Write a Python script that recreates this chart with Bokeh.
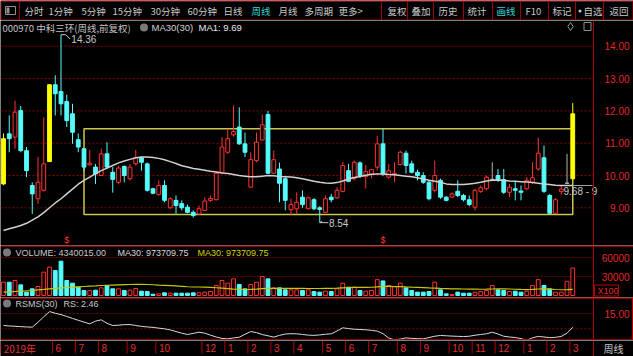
from bokeh.plotting import figure
from bokeh.layouts import column
from bokeh.models import Range1d
from bokeh.core.properties import value
from bokeh.embed import file_html
from bokeh.resources import INLINE

# ---------------- data (weekly candles, 000970) ----------------
opens = [9.74, 11.29, 11.19, 12.01, 10.77, 9.69, 9.28, 9.54, 10.43, 12.81,
         12.60, 12.29, 11.91, 11.11, 10.83, 10.33, 10.26, 10.00, 10.67, 10.10,
         9.79, 10.28, 9.90, 10.36, 10.55, 10.36, 9.59, 9.41, 9.69, 9.00,
         9.23, 9.13, 9.02, 8.86, 8.81, 8.92, 9.23, 9.25, 10.10, 10.72,
         11.26, 11.50, 10.98, 9.64, 10.46, 11.10, 11.89, 10.07, 10.20, 9.90,
         8.94, 8.97, 9.33, 8.97, 9.25, 9.00, 8.86, 9.33, 9.31, 9.51,
         10.15, 9.90, 10.39, 9.97, 10.03, 10.26, 10.98, 9.95, 10.03, 10.34,
         10.69, 10.36, 10.10, 10.00, 9.79, 9.54, 9.85, 9.33, 9.33, 9.51,
         9.38, 9.25, 9.02, 9.51, 9.59, 9.88, 10.00, 9.87, 9.48, 9.59,
         9.52, 9.59, 9.79, 10.20, 10.55, 9.38, 8.83, 9.50, 9.76, 9.90]
closes = [11.14, 11.14, 11.96, 10.77, 10.15, 9.43, 9.79, 10.36, 12.81, 12.53,
          12.22, 11.70, 11.34, 10.88, 10.26, 10.38, 10.05, 10.67, 10.26, 9.88,
          10.23, 10.00, 10.26, 10.55, 10.41, 9.54, 9.45, 9.69, 9.23, 9.28,
          9.07, 9.00, 8.86, 8.76, 8.97, 9.21, 9.29, 10.07, 10.88, 11.14,
          11.36, 10.98, 10.72, 10.49, 11.03, 11.57, 10.07, 10.49, 9.76, 9.23,
          9.10, 9.17, 9.10, 9.31, 8.97, 8.95, 9.28, 9.25, 9.54, 10.31,
          9.82, 10.41, 10.00, 10.12, 10.18, 10.98, 10.05, 10.15, 10.07, 10.72,
          10.31, 10.10, 10.00, 9.79, 9.28, 10.00, 9.33, 9.23, 9.43, 9.38,
          9.25, 9.10, 9.54, 9.62, 9.95, 9.88, 9.85, 9.48, 9.64, 9.54,
          9.48, 9.85, 9.93, 10.69, 9.51, 8.83, 9.25, 9.58, 9.76, 11.91]
highs = [11.30, 11.86, 12.32, 12.15, 10.88, 9.79, 10.57, 11.80, 12.81, 13.10,
         14.36, 12.50, 12.22, 11.30, 10.85, 10.79, 10.36, 10.83, 11.03, 10.26,
         10.30, 10.31, 10.36, 10.79, 10.57, 10.40, 9.62, 9.85, 9.85, 9.33,
         9.38, 9.23, 9.10, 8.92, 9.07, 9.33, 9.38, 10.12, 11.19, 11.45,
         12.17, 12.11, 11.33, 10.72, 11.33, 11.89, 12.00, 10.77, 10.40, 9.95,
         9.28, 9.48, 9.54, 9.35, 9.30, 9.05, 9.38, 9.43, 9.64, 10.42,
         10.36, 10.46, 10.44, 10.33, 10.20, 11.23, 11.45, 10.36, 10.41, 10.77,
         10.77, 10.46, 10.18, 10.10, 9.85, 10.46, 9.90, 9.36, 9.48, 9.85,
         9.43, 9.38, 9.59, 9.69, 10.00, 10.41, 10.20, 10.20, 9.74, 9.80,
         9.69, 9.95, 10.41, 11.17, 10.93, 9.43, 9.30, 9.69, 10.67, 12.24]
lows = [9.70, 10.72, 10.83, 10.72, 9.95, 8.81, 9.12, 9.50, 10.43, 11.86,
        11.86, 11.50, 10.98, 10.72, 10.15, 10.31, 9.74, 9.98, 10.20, 9.47,
        9.74, 9.79, 9.85, 10.31, 10.15, 9.50, 9.42, 9.38, 9.17, 8.97,
        8.82, 8.92, 8.83, 8.70, 8.78, 8.90, 9.18, 9.23, 10.05, 10.67,
        11.20, 10.95, 10.57, 9.62, 10.41, 11.08, 10.05, 10.05, 9.17, 8.92,
        8.77, 8.80, 9.00, 8.95, 8.92, 8.54, 8.84, 9.17, 9.28, 9.48,
        9.79, 9.85, 9.92, 9.60, 9.92, 10.15, 9.98, 9.90, 9.79, 10.31,
        10.06, 10.06, 9.85, 9.74, 9.23, 9.48, 9.28, 9.20, 9.30, 9.33,
        9.20, 9.05, 8.92, 9.46, 9.54, 9.85, 9.80, 9.43, 9.33, 9.23,
        9.23, 9.54, 9.74, 10.15, 9.46, 8.80, 8.80, 9.40, 9.74, 9.88]
highlight_idx = [0, 8, 99]          # candles drawn in yellow

price_ma30 = [8.30, 8.35, 8.40, 8.45, 8.52, 8.62, 8.72, 8.85, 9.00, 9.15,
              9.28, 9.43, 9.58, 9.73, 9.85, 9.95, 10.06, 10.15, 10.23, 10.31,
              10.39, 10.45, 10.50, 10.55, 10.57, 10.57, 10.56, 10.53, 10.49, 10.43,
              10.37, 10.30, 10.26, 10.22, 10.19, 10.16, 10.13, 10.11, 10.08, 10.06,
              10.03, 10.00, 9.98, 9.96, 9.96, 9.98, 10.00, 9.99, 9.97, 9.96,
              9.95, 9.93, 9.90, 9.86, 9.82, 9.79, 9.77, 9.76, 9.78, 9.83,
              9.89, 9.94, 9.97, 10.01, 10.04, 10.05, 10.05, 10.03, 10.02, 10.00,
              9.98, 9.96, 9.93, 9.89, 9.85, 9.82, 9.79, 9.74, 9.72, 9.72,
              9.72, 9.74, 9.76, 9.79, 9.83, 9.85, 9.86, 9.85, 9.83, 9.82,
              9.81, 9.80, 9.78, 9.76, 9.74, 9.72, 9.70, 9.69, 9.69, 9.69]

volumes = [21000, 21000, 23700, 16800, 5300, 10500, 14200, 36800, 44700, 39500,
           54200, 23700, 19500, 13200, 7900, 7900, 8400, 12100, 15800, 10500,
           10500, 7900, 8400, 11000, 6800, 6300, 2000, 2600, 4200, 3700,
           3700, 3700, 3700, 4200, 4200, 5300, 6300, 15800, 23700, 19500,
           26300, 17400, 10500, 17400, 21000, 30000, 26300, 12100, 12100, 9000,
           9000, 9000, 7900, 9000, 6300, 5300, 6800, 6300, 10500, 19500,
           13200, 13200, 7900, 6800, 7900, 25000, 23000, 15800, 14200, 19500,
           12100, 7900, 5300, 5300, 6300, 21000, 9000, 2600, 1600, 5300,
           3700, 3700, 5300, 6300, 7900, 15800, 9000, 7900, 6300, 6800,
           5300, 6800, 15800, 25000, 15800, 10500, 5300, 5300, 22400, 43400.15]
vol_ma30 = [5300, 5800, 6300, 6800, 7300, 7900, 8800, 9600, 10500, 11200,
            11900, 12600, 13200, 13700, 14200, 14700, 15200, 15800, 16200, 16500,
            16800, 17100, 17400, 17600, 17600, 17400, 17000, 16500, 16100, 15670,
            15090, 14520, 13850, 13430, 13390, 13220, 12960, 12260, 11560, 10890,
            9960, 9750, 9450, 9590, 10030, 10760, 11360, 11360, 11240, 11190,
            11140, 11170, 11160, 11090, 11070, 11040, 11200, 11320, 11530, 12060,
            12380, 12690, 12830, 12920, 13040, 13700, 14260, 14260, 13940, 13940,
            13470, 13150, 12980, 12570, 12080, 11780, 11210, 10890, 10540, 10420,
            10240, 10060, 9980, 9890, 9940, 10290, 10360, 10420, 10280, 9850,
            9590, 9380, 9640, 10250, 10510, 10030, 9440, 9090, 9360, 9737.10]

rsms = [4.0, 3.6, 3.3, 3.0, 2.7, 2.5, 7.0, 12.0, 16.8, 15.2,
        14.0, 12.3, 10.5, 8.8, 7.1, 5.5, 8.0, 9.2, 6.0, 4.0,
        4.3, 4.8, 4.9, 4.0, 3.2, 2.7, 2.3, 1.6, 1.0, 0.0,
        -1.5, -3.0, -4.2, -3.2, -2.1, -3.0, -4.8, -6.5, -7.8, -8.2,
        -7.4, -6.7, -4.0, -1.5, -2.5, -4.3, -5.4, -6.6, -5.0, -3.8,
        -3.5, -3.6, -4.2, -4.8, -5.0, -4.6, -4.0, -3.6, -1.0, 1.9,
        1.2, 0.6, 0.4, 0.1, -0.4, -1.1, -3.5, -7.5, -9.1, -8.4,
        -7.3, -7.8, -8.0, -8.2, -7.0, -5.8, -5.1, -5.4, -5.7, -5.9,
        -6.1, -5.8, -4.9, -4.2, -3.6, -2.1, -3.8, -5.8, -6.5, -7.0,
        -8.0, -9.6, -7.2, -6.0, -6.5, -7.1, -6.8, -6.0, -3.0, 2.46]

month_idx = [0, 9, 13, 17, 22, 27, 35, 39, 43, 47, 51, 56, 60, 64, 69, 73, 78, 82, 86, 91, 95, 99]
month_labels = ["2019年", "6", "7", "8", "9", "10", "12", "1", "2", "3", "4",
                "5", "6", "7", "8", "9", "10", "11", "12", "1", "2", "3"]
price_ticks = [9, 10, 11, 12, 13, 14]
vol_ticks = [30000, 60000]
rs_ticks = [15]
rs_grid = [15, 1.0]
box_x = [14, 99]
box_y = [8.79, 11.45]
hi_idx, hi_val = 10, 14.36
lo_idx, lo_val = 55, 8.54
mark_idx = [11, 66]

# ---------------- layout helpers (pixel geometry of the screenshot) ----------------
PX0, PXW = 3.0, 5.75
def cx(px):
    return (px - PX0) / PXW
def py_price(py):
    return 10 + (175 - py) / 32.3
def py_vol(py):
    return (295 - py) / 38 * 60000
def py_rs(py):
    return 15 - (py - 313) * 0.915

RED = "#ff3232"
CYAN = "#54fcfc"
YEL = "#ffff00"
GRAY = "#b4b4b4"
AXRED = "#e02828"
GRID = "#8a0000"
SEP = "#b40000"
TXT = "#c8c8c8"
CJK = "Noto Sans CJK SC"
LAT = "Liberation Sans"

def mk(h, xr, yr):
    p = figure(width=633, height=h, x_range=xr, y_range=yr, toolbar_location=None,
               output_backend="svg", x_axis_location=None, y_axis_location=None,
               min_border=0, background_fill_color="black", border_fill_color="black",
               outline_line_color=None)
    p.grid.visible = False
    return p

def put(p, xs, ys, texts, color, size="10px", align="left", font=LAT):
    p.text(x=xs, y=ys, text=texts, text_color=color, text_font=value(font),
           text_font_size=size, text_align=align, text_baseline="middle")

n = len(opens)
idx = list(range(n))
xr = Range1d(cx(0), cx(633))

# ---------------- toolbar ----------------
pt = mk(20, Range1d(0, 633), Range1d(20, 0))
pt.line([0.5, 632.5, 632.5, 0.5, 0.5], [1, 1, 19.5, 19.5, 1], color="#a00000", line_width=1)
seps = [19, 381, 407, 433, 463, 492, 520, 548, 575, 603]
pt.segment(x0=seps, x1=seps, y0=1, y1=19.5, color="#a00000", line_width=1)
pt.rect(x=10, y=10, width=10, height=8, fill_color=None, line_color="#909090")
pt.rect(x=7.5, y=10, width=3, height=6, fill_color="#909090", line_color=None)
left_items = ["分时", "1分钟", "5分钟", "15分钟", "30分钟", "60分钟", "日线", "周线", "月线", "多周期", "更多>"]
left_x = [24, 48, 81, 112, 150, 187, 223, 251, 278, 304, 338]
right_items = ["复权", "叠加", "历史", "统计", "画线", "F10", "标记", "自选", "返回"]
right_x = [387, 411, 438, 467, 496, 525, 552, 583, 609]
active = {"周线", "画线"}
for s, x in zip(left_items + right_items, left_x + right_x):
    put(pt, [x], [10.5], [s], "#3cd7d7" if s in active else TXT, size="9.5px", font=CJK)
pt.scatter([579.5], [10.5], size=3, fill_color=TXT, line_color=None)

# ---------------- main price panel ----------------
pm = mk(225, xr, Range1d(py_price(245), py_price(20)))
pm.segment(x0=cx(0), x1=cx(593), y0=price_ticks, y1=price_ticks, color=GRID, line_dash="2 2")
put(pm, [cx(629)] * len(price_ticks), price_ticks, [f"{t:.2f}" for t in price_ticks], AXRED, align="right")
pm.quad(left=box_x[0], right=box_x[1], bottom=box_y[0], top=box_y[1],
        fill_color=None, line_color="#c8c84b", line_width=1.5)

cols, fills = [], []
for i in idx:
    if i in highlight_idx:
        c, f = YEL, YEL
    elif closes[i] > opens[i]:
        c, f = RED, "black"
    elif closes[i] < opens[i]:
        c, f = CYAN, CYAN
    else:
        c, f = GRAY, GRAY
    cols.append(c)
    fills.append(f)
tops = [max(o, c) for o, c in zip(opens, closes)]
bots = [min(o, c) for o, c in zip(opens, closes)]
pm.segment(x0=idx, x1=idx, y0=lows, y1=highs, color=cols, line_width=1)
pm.vbar(x=idx, top=tops, bottom=bots, width=0.66, fill_color=fills, line_color=cols, line_width=1)
pm.line(idx, price_ma30, color="#d0d0d0", line_width=1.5)
pm.segment(x0=idx[-1], x1=cx(592), y0=price_ma30[-1], y1=price_ma30[-1], color="#a0a0a0", line_width=1)

# annotations
pm.line([hi_idx, hi_idx + 0.8, hi_idx + 1.6], [hi_val, hi_val, py_price(38.5)], color=TXT, line_width=1)
put(pm, [hi_idx + 1.8], [py_price(38.5)], [f"{hi_val:.2f}"], TXT)
pm.segment(x0=lo_idx, x1=lo_idx + 1.5, y0=lo_val, y1=lo_val, color=TXT, line_width=1)
pm.segment(x0=lo_idx, x1=lo_idx + 0.4, y0=lo_val, y1=lo_val + 0.04, color=TXT, line_width=1)
put(pm, [lo_idx + 1.6], [lo_val], [f"{lo_val:.2f}"], TXT)
put(pm, [cx(563)], [py_price(191)], ["9.68 - 9"], TXT)
put(pm, [m for m in mark_idx], [py_price(239)] * len(mark_idx), ["$"] * len(mark_idx), "#ff3030", size="9px", align="center")

# title row
put(pm, [cx(2)], [py_price(27)], ["000970 中科三环(周线,前复权)"], "#c0c0c0", size="9.5px", font=CJK)
pm.scatter([cx(143.5)], [py_price(27)], size=8, fill_color="#7a7a7a", line_color=None)
put(pm, [cx(151)], [py_price(27)], ["MA30(30)"], "#d0d0d0", size="9.5px")
put(pm, [cx(198)], [py_price(27)], ["MA1: 9.69"], "#e8e8e8", size="9.5px")
pm.scatter([cx(570)], [py_price(26)], marker="diamond", size=8, fill_color=None, line_color="#909090")
pm.rect([cx(587)], [py_price(26)], width=7 / PXW, height=8 / 32.3, fill_color=None, line_color="#909090")
pm.segment(x0=cx(593), x1=cx(593), y0=py_price(245), y1=py_price(20), color=SEP, line_width=1)

# ---------------- volume panel ----------------
pv = mk(52, xr, Range1d(py_vol(297), py_vol(245)))
pv.segment(x0=cx(0), x1=cx(593), y0=vol_ticks, y1=vol_ticks, color=GRID, line_dash="2 2")
vcol, vfill = [], []
for i in idx:
    if closes[i] < opens[i] and i not in highlight_idx:
        vcol.append(CYAN); vfill.append(CYAN)
    else:
        vcol.append(RED); vfill.append("black")
pv.vbar(x=idx, top=volumes, bottom=0, width=0.66, fill_color=vfill, line_color=vcol, line_width=1)
pv.line(idx, vol_ma30, color="#c8c800", line_width=1.2)
pv.segment(x0=cx(0), x1=cx(633), y0=py_vol(245.5), y1=py_vol(245.5), color=SEP, line_width=1.5)
pv.segment(x0=cx(593), x1=cx(593), y0=py_vol(297), y1=py_vol(245), color=SEP, line_width=1)
put(pv, [cx(629)] * len(vol_ticks), vol_ticks, [str(t) for t in vol_ticks], AXRED, align="right")
pv.quad(left=cx(594), right=cx(618), bottom=py_vol(295.5), top=py_vol(284.5), fill_color=None, line_color=SEP)
put(pv, [cx(597)], [py_vol(290)], ["X100"], AXRED, size="9px")
pv.scatter([cx(6.5)], [py_vol(252)], size=8, fill_color="#7a7a7a", line_color=None)
put(pv, [cx(15)], [py_vol(252)], ["VOLUME: 4340015.00"], TXT, size="9px")
put(pv, [cx(117)], [py_vol(252)], ["MA30: 973709.75"], "#d8d8d8", size="9px")
put(pv, [cx(197)], [py_vol(252)], ["MA30: 973709.75"], "#d0d000", size="9px")

# ---------------- RSMS panel ----------------
pr = mk(43, xr, Range1d(py_rs(340), py_rs(297)))
pr.segment(x0=cx(0), x1=cx(593), y0=rs_grid, y1=rs_grid, color=GRID, line_dash="2 2")
pr.line(idx, rsms, color="#d8d8d8", line_width=1)
pr.segment(x0=cx(0), x1=cx(633), y0=py_rs(297.5), y1=py_rs(297.5), color=SEP, line_width=1.5)
pr.segment(x0=cx(0), x1=cx(633), y0=py_rs(339.5), y1=py_rs(339.5), color=SEP, line_width=1.5)
pr.segment(x0=[cx(593), cx(632)], x1=[cx(593), cx(632)], y0=py_rs(340), y1=py_rs(297), color=SEP, line_width=1)
put(pr, [cx(629)] * len(rs_ticks), rs_ticks, [f"{t:.2f}" for t in rs_ticks], AXRED, align="right")
pr.scatter([cx(6.5)], [py_rs(303)], size=8, fill_color="#7a7a7a", line_color=None)
put(pr, [cx(15)], [py_rs(303)], ["RSMS(30)"], TXT, size="9px")
put(pr, [cx(63)], [py_rs(303)], ["RS: 2.46"], TXT, size="9px")

# ---------------- date row ----------------
pd_ = mk(16, xr, Range1d(356, 340))
tick_x = [m - 0.5 for m in month_idx]
pd_.segment(x0=tick_x, x1=tick_x, y0=340, y1=353, color=SEP, line_width=1)
for m, lab in zip(tick_x, month_labels):
    put(pd_, [m + 0.55], [347.5], [lab], "#e03030", font=CJK if "年" in lab else LAT)
pd_.segment(x0=cx(593), x1=cx(593), y0=340, y1=356, color=SEP, line_width=1)
put(pd_, [cx(603)], [347.5], ["周线"], TXT, font=CJK)

layout = column(pt, pm, pv, pr, pd_, spacing=0)
with open("out.html", "w") as f:
    f.write(file_html(layout, INLINE))
